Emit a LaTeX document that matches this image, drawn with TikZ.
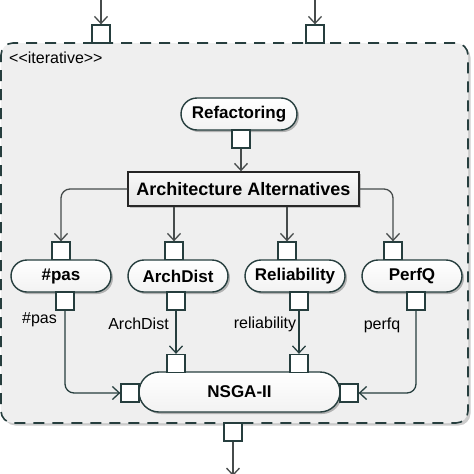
\documentclass[tikz,border=0pt]{standalone}
\usepackage{fontspec}
\setmainfont{Liberation Sans}
\usetikzlibrary{arrows.meta,shadows,shapes.misc}
\definecolor{edge}{RGB}{38,62,62}
\definecolor{arr}{RGB}{70,75,75}
\definecolor{framefill}{RGB}{239,239,239}
\tikzset{
  pin/.style={draw=edge, line width=1.3pt, fill=white, minimum width=18pt, minimum height=18pt, inner sep=0pt},
  action/.style={rounded rectangle, draw=edge, line width=1.4pt, top color=white, bottom color=gray!10,
     drop shadow={shadow xshift=2pt, shadow yshift=-2pt, fill=gray!60, opacity=1},
     minimum width=100pt, minimum height=32pt, inner sep=0pt, font=\fontsize{17}{19}\selectfont\bfseries},
  obj/.style={draw=black!85, line width=1.4pt, top color=gray!5, bottom color=gray!20,
     drop shadow={shadow xshift=2pt, shadow yshift=-2pt, fill=gray!50, opacity=1},
     minimum width=231pt, minimum height=34pt, inner sep=0pt, font=\fontsize{18}{20}\selectfont\bfseries},
  flow/.style={draw=arr, line width=1.3pt, -{Straight Barb[length=7pt,width=13pt,line width=1.3pt]}},
  lbl/.style={font=\fontsize{16}{18}\selectfont, inner sep=0pt},
}
\begin{document}
\begin{tikzpicture}[x=1pt,y=-1pt]
\useasboundingbox (0,0) rectangle (474,474);
% frame
\fill[gray!40, rounded corners=12pt] (3.5,45.5) rectangle (470.5,425.5);
\path[fill=framefill, rounded corners=12pt] (1,43) rectangle (468,423);
\draw[edge, line width=1.6pt, dash pattern=on 11pt off 8pt, rounded corners=12pt, dash phase=4pt] (1,43) rectangle (468,423);
\node[lbl, anchor=west] (iter) at (9,58) {<{}<iterative>{}>};
% top pins
\node[pin] (tp1) at (101,34) {};
\node[pin] (tp2) at (315,34) {};
\coordinate (s1) at (101,-2);
\coordinate (s2) at (315,-2);
\draw[flow] (s1) -- (tp1.north);
\draw[flow] (s2) -- (tp2.north);
% Refactoring
\node[action, minimum width=116pt] (ref) at (239,114) {Refactoring};
\node[pin] (rp) at (241,139) {};
% Architecture Alternatives
\node[obj] (arch) at (243.5,189) {Architecture Alternatives};
\draw[flow] (rp.south) -- (arch.north -| rp.south);
% metric nodes
\node[pin] (ip1) at (61,251) {};
\node[pin] (ip2) at (174,251) {};
\node[pin] (ip3) at (287,251) {};
\node[pin] (ip4) at (393,251) {};
\node[action] (pas) at (61,276) {\#pas};
\node[action] (ad) at (178,276) {ArchDist};
\node[action] (rel) at (295,276) {Reliability};
\node[action] (pq) at (412,276) {PerfQ};
\node[pin] (op1) at (65,301) {};
\node[pin] (op2) at (176,301) {};
\node[pin] (op3) at (299,301) {};
\node[pin] (op4) at (416,301) {};
\draw[flow, rounded corners=9pt] (arch.west) -| (ip1.north);
\draw[flow] (arch.south -| ip2.north) -- (ip2.north);
\draw[flow] (arch.south -| ip3.north) -- (ip3.north);
\draw[flow, rounded corners=9pt] (arch.east) -| (ip4.north);
% NSGA-II
\node[action, minimum width=201pt, minimum height=40pt] (ns) at (239.5,392) {NSGA-II};
\node[pin] (np1) at (176,363.5) {};
\node[pin] (np2) at (299,363.5) {};
\node[pin] (nl) at (130,393) {};
\node[pin] (nr) at (349,393) {};
\draw[flow, draw=edge, rounded corners=9pt] (op1.south) |- (nl.west);
\draw[flow, draw=edge] (op2.south) -- (np1.north);
\draw[flow, draw=edge] (op3.south) -- (np2.north);
\draw[flow, draw=edge, rounded corners=9pt] (op4.south) |- (nr.east);
\node[lbl] (l1) at (39.5,320) {\#pas};
\node[lbl] (l2) at (138.5,324) {ArchDist};
\node[lbl] (l3) at (265,324) {reliability};
\node[lbl] (l4) at (382,325) {perfq};
% output
\node[pin] (bp) at (233,432) {};
\coordinate (e) at (233,476);
\draw[flow] (bp.south) -- (e);
\end{tikzpicture}
\end{document}
